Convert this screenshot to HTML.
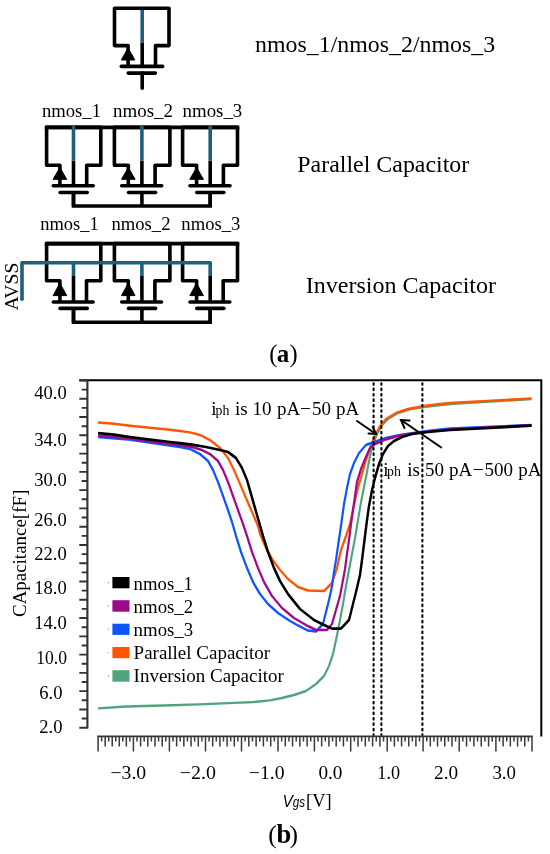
<!DOCTYPE html>
<html lang="en"><head><meta charset="utf-8"><title>Figure</title>
<style>html,body{margin:0;padding:0;background:#fff;}svg{display:block;}text{font-family:'Liberation Serif', serif;fill:#000;}</style>
</head><body>
<svg width="550" height="854" viewBox="0 0 550 854">
<rect width="550" height="854" fill="#fff"/>
<g id="single">
<path d="M128.1,66.4 V45.6 H114.5 V8.2 H169 V45.6 H155.5 V66.4" fill="none" stroke="#000" stroke-width="3.6" stroke-linejoin="round"/>
<path d="M121.3,66.4 H162.6" stroke="#000" stroke-width="3.6" stroke-linecap="round"/>
<path d="M128.2,73.1 H155.4" stroke="#000" stroke-width="3.6" stroke-linecap="round"/>
<path d="M142.2,73.1 V88.2" stroke="#000" stroke-width="3.6" stroke-linecap="round"/>
<path d="M142.2,42.4 V66.4" stroke="#000" stroke-width="3.6"/>
<path d="M128.1,48.0 L134.9,60.00000000000001 H121.3 Z" fill="#000" stroke="#000" stroke-width="1" stroke-linejoin="round"/>
<path d="M142.2,10 V42.4" stroke="#1e607b" stroke-width="3.6"/>
</g>
<text x="255.1" y="52.3" font-size="23.6" textLength="240" lengthAdjust="spacingAndGlyphs">nmos_1/nmos_2/nmos_3</text>
<g id="parallel">
<path d="M59.9,185.7 V165.2 H46.6 V127.4 H100.8 V165.2 H86.7 V185.7" fill="none" stroke="#000" stroke-width="3.6" stroke-linejoin="round"/>
<path d="M53.3,185.7 H93.3" stroke="#000" stroke-width="3.6" stroke-linecap="round"/>
<path d="M60.1,192.5 H87.2" stroke="#000" stroke-width="3.6" stroke-linecap="round"/>
<path d="M73.5,192.5 V206.0" stroke="#000" stroke-width="3.6" stroke-linecap="butt"/>
<path d="M73.5,160.7 V185.7" stroke="#000" stroke-width="3.6"/>
<path d="M59.9,167.6 L66.7,179.29999999999998 H53.1 Z" fill="#000" stroke="#000" stroke-width="1" stroke-linejoin="round"/>
<path d="M128.3,185.7 V165.2 H114.4 V127.4 H169.9 V165.2 H155.1 V185.7" fill="none" stroke="#000" stroke-width="3.6" stroke-linejoin="round"/>
<path d="M121.7,185.7 H161.70000000000002" stroke="#000" stroke-width="3.6" stroke-linecap="round"/>
<path d="M128.5,192.5 H155.6" stroke="#000" stroke-width="3.6" stroke-linecap="round"/>
<path d="M141.9,192.5 V206.0" stroke="#000" stroke-width="3.6" stroke-linecap="butt"/>
<path d="M141.9,160.7 V185.7" stroke="#000" stroke-width="3.6"/>
<path d="M128.3,167.6 L135.10000000000002,179.29999999999998 H121.50000000000001 Z" fill="#000" stroke="#000" stroke-width="1" stroke-linejoin="round"/>
<path d="M196.6,185.7 V165.2 H182.6 V127.4 H237.5 V165.2 H223.39999999999998 V185.7" fill="none" stroke="#000" stroke-width="3.6" stroke-linejoin="round"/>
<path d="M190.0,185.7 H230.0" stroke="#000" stroke-width="3.6" stroke-linecap="round"/>
<path d="M196.79999999999998,192.5 H223.89999999999998" stroke="#000" stroke-width="3.6" stroke-linecap="round"/>
<path d="M210.2,192.5 V206.0" stroke="#000" stroke-width="3.6" stroke-linecap="butt"/>
<path d="M210.2,160.7 V185.7" stroke="#000" stroke-width="3.6"/>
<path d="M196.6,167.6 L203.4,179.29999999999998 H189.79999999999998 Z" fill="#000" stroke="#000" stroke-width="1" stroke-linejoin="round"/>
<path d="M46.6,127.4 H237.5" stroke="#000" stroke-width="3.6" stroke-linecap="square"/>
<path d="M73.5,192.5 V206.0 H210.2 V192.5" fill="none" stroke="#000" stroke-width="3.6" stroke-linejoin="miter"/>
<path d="M73.5,125.60000000000001 V160.7" stroke="#1e607b" stroke-width="3.6"/>
<path d="M141.9,125.60000000000001 V160.7" stroke="#1e607b" stroke-width="3.6"/>
<path d="M210.2,125.60000000000001 V160.7" stroke="#1e607b" stroke-width="3.6"/>
</g>
<text x="42" y="117.1" font-size="18.7" textLength="59" lengthAdjust="spacingAndGlyphs">nmos_1</text>
<text x="113" y="117.1" font-size="18.7" textLength="60" lengthAdjust="spacingAndGlyphs">nmos_2</text>
<text x="182.6" y="117.1" font-size="18.7" textLength="59.7" lengthAdjust="spacingAndGlyphs">nmos_3</text>
<text x="297.3" y="171.8" font-size="24" textLength="172" lengthAdjust="spacingAndGlyphs">Parallel Capacitor</text>
<g id="inversion">
<path d="M59.9,302.0 V280.8 H46.6 V243.6 H100.8 V280.8 H86.5 V302.0" fill="none" stroke="#000" stroke-width="3.6" stroke-linejoin="round"/>
<path d="M53.3,302.0 H93.1" stroke="#000" stroke-width="3.6" stroke-linecap="round"/>
<path d="M60.1,308.4 H87.2" stroke="#000" stroke-width="3.6" stroke-linecap="round"/>
<path d="M73.5,308.4 V322.2" stroke="#000" stroke-width="3.6" stroke-linecap="butt"/>
<path d="M73.5,276 V302.0" stroke="#000" stroke-width="3.6"/>
<path d="M59.9,283.2 L66.7,295.6 H53.1 Z" fill="#000" stroke="#000" stroke-width="1" stroke-linejoin="round"/>
<path d="M128.3,302.0 V280.8 H114.4 V243.6 H169.9 V280.8 H154.9 V302.0" fill="none" stroke="#000" stroke-width="3.6" stroke-linejoin="round"/>
<path d="M121.7,302.0 H161.5" stroke="#000" stroke-width="3.6" stroke-linecap="round"/>
<path d="M128.5,308.4 H155.6" stroke="#000" stroke-width="3.6" stroke-linecap="round"/>
<path d="M141.9,308.4 V322.2" stroke="#000" stroke-width="3.6" stroke-linecap="butt"/>
<path d="M141.9,276 V302.0" stroke="#000" stroke-width="3.6"/>
<path d="M128.3,283.2 L135.10000000000002,295.6 H121.50000000000001 Z" fill="#000" stroke="#000" stroke-width="1" stroke-linejoin="round"/>
<path d="M196.6,302.0 V280.8 H182.6 V243.6 H237.5 V280.8 H223.2 V302.0" fill="none" stroke="#000" stroke-width="3.6" stroke-linejoin="round"/>
<path d="M190.0,302.0 H229.79999999999998" stroke="#000" stroke-width="3.6" stroke-linecap="round"/>
<path d="M196.79999999999998,308.4 H223.89999999999998" stroke="#000" stroke-width="3.6" stroke-linecap="round"/>
<path d="M210.2,308.4 V322.2" stroke="#000" stroke-width="3.6" stroke-linecap="butt"/>
<path d="M210.2,276 V302.0" stroke="#000" stroke-width="3.6"/>
<path d="M196.6,283.2 L203.4,295.6 H189.79999999999998 Z" fill="#000" stroke="#000" stroke-width="1" stroke-linejoin="round"/>
<path d="M46.6,243.6 H237.5" stroke="#000" stroke-width="3.6" stroke-linecap="square"/>
<path d="M73.5,308.4 V322.2 H210.2 V308.4" fill="none" stroke="#000" stroke-width="3.6" stroke-linejoin="miter"/>
<path d="M22,299.2 V262.8 H210.2 V276" fill="none" stroke="#1e607b" stroke-width="3.6" stroke-linecap="butt" stroke-linejoin="round"/>
<circle cx="22" cy="299.2" r="1.8" fill="#1e607b"/>
<path d="M73.5,262.8 V276" stroke="#1e607b" stroke-width="3.6"/>
<path d="M141.9,262.8 V276" stroke="#1e607b" stroke-width="3.6"/>
</g>
<text x="40.2" y="230.4" font-size="18.7" textLength="58.6" lengthAdjust="spacingAndGlyphs">nmos_1</text>
<text x="111.5" y="230.4" font-size="18.7" textLength="59" lengthAdjust="spacingAndGlyphs">nmos_2</text>
<text x="181.3" y="230.4" font-size="18.7" textLength="59.1" lengthAdjust="spacingAndGlyphs">nmos_3</text>
<text transform="translate(18.3,310.4) rotate(-90)" font-size="18.7" textLength="47.8" lengthAdjust="spacingAndGlyphs">AVSS</text>
<text x="305.7" y="292.5" font-size="24" textLength="190.4" lengthAdjust="spacingAndGlyphs">Inversion Capacitor</text>
<text y="361.8" font-size="24.5"><tspan x="269.2">(</tspan><tspan x="276.8" font-weight="bold" font-size="25">a</tspan><tspan x="289.4">)</tspan></text>
<g id="chart">
<polyline transform="scale(1,1.12)" points="98.1,632.50 126.4,630.80 162.7,629.91 199,628.93 240,627.32 254,626.79 270,625.36 282,623.21 294,620.54 306,616.96 316,610.71 324,603.57 329,594.64 333,583.93 336,571.43 340,553.57 343,539.29 346,523.21 349,508.93 352,494.64 355,480.36 358,464.29 361,448.21 364,434.82 367,421.43 370,407.14 373,396.43 377,387.50 382,379.46 388,374.11 398,368.75 410,365.54 426,363.21 450,360.71 531.5,356.25" fill="none" stroke="#4fa57c" stroke-width="2.15" stroke-linejoin="round" stroke-linecap="butt"/>
<polyline transform="scale(1,1.12)" points="98.1,377.32 114,378.39 130,380.09 150,381.87 170,383.66 180,384.82 190,386.07 200,388.39 210,392.86 220,400.00 228,408.93 234,419.64 240,432.14 246,444.64 252,457.14 258,469.64 260,476.79 266,489.29 272,499.11 280,508.93 288,516.96 298,524.11 308,527.23 324,527.68 332,520.54 337,507.14 341,491.07 346,478.57 350,467.86 353,455.36 356,442.86 359,432.14 362,423.21 366,410.71 370,400.00 374,391.07 380,380.36 386,374.11 396,368.75 408,365.18 424,362.50 440,360.71 450,359.82 531.5,355.71" fill="none" stroke="#ff5500" stroke-width="2.2" stroke-linejoin="round" stroke-linecap="butt"/>
<polyline transform="scale(1,1.12)" points="98.1,390.18 112,391.34 128.6,392.50 157.7,396.16 180,399.11 190,400.89 200,405.36 208,411.61 213,419.64 218,430.36 223,442.86 228,455.36 232,466.07 236,478.57 241,492.86 247,507.14 253,519.64 260,530.36 268,539.29 278,547.32 290,554.46 298,558.48 308,562.95 316,563.84 323,557.14 326,546.43 329,535.71 332,523.21 334,510.71 336,500.00 338,487.50 341,469.64 344,450.00 347,435.71 350,423.21 354,413.39 359,404.46 366,397.32 374,394.64 386,391.07 400,388.39 420,385.71 436,383.93 450,382.68 531.5,379.46" fill="none" stroke="#0f55ff" stroke-width="2.2" stroke-linejoin="round" stroke-linecap="butt"/>
<polyline transform="scale(1,1.12)" points="98.1,388.66 112,390.00 128.6,391.43 157.7,395.09 180,397.32 192,399.11 202,401.79 210,405.36 218,411.61 223,419.64 228,430.36 233,442.86 238,455.36 243,467.86 247,478.57 252,492.86 258,507.14 264,519.64 272,532.14 282,542.86 294,551.79 306,558.04 316,562.50 327,562.50 332,557.14 336,544.64 340,532.14 343,517.86 345,508.04 347,494.64 349,482.14 351,467.86 353,455.36 355,442.86 357,430.36 361,418.75 365,409.82 370,400.00 375,396.43 384,392.86 398,389.29 412,387.14 428,385.36 450,383.39 531.5,379.64" fill="none" stroke="#a00a88" stroke-width="2.2" stroke-linejoin="round" stroke-linecap="butt"/>
<polyline transform="scale(1,1.12)" points="98.1,386.61 114,388.04 130,390.18 150,392.50 170,394.64 180,395.71 192,396.96 206,399.11 220,401.79 228,403.57 236,408.93 242,417.86 247,428.57 251,441.07 255,453.57 259,466.07 263,478.57 268,492.86 274,507.14 280,518.75 288,530.36 300,543.75 314,553.57 324,558.04 332,561.25 341,561.25 349,553.57 352,542.86 356,528.57 360,513.39 362,500.00 363,492.86 365,478.57 367,464.29 369,451.79 372,437.50 375,426.79 379,414.29 383,405.36 388,398.21 394,393.75 402,390.18 412,387.50 428,385.71 450,383.93 531.5,380.00" fill="none" stroke="#000" stroke-width="2.45" stroke-linejoin="round" stroke-linecap="butt"/>
<path d="M373.6,383.2 V735" stroke="#000" stroke-width="2.1" stroke-dasharray="1.6,3.8" stroke-linecap="round"/>
<path d="M381.4,383.2 V735" stroke="#000" stroke-width="2.1" stroke-dasharray="1.6,3.8" stroke-linecap="round"/>
<path d="M422.4,383.2 V735" stroke="#000" stroke-width="2.1" stroke-dasharray="1.6,3.8" stroke-linecap="round"/>
<path d="M79.3,380.2 H541.3 V736.6" fill="none" stroke="#000" stroke-width="2" stroke-linejoin="miter"/>
<path d="M87.4,380.2 V728.5" stroke="#333" stroke-width="2.1"/>
<path d="M79.3,380.50 H87.4 M81.7,389.64 H87.4 M79.3,398.77 H87.4 M81.7,407.91 H87.4 M79.3,417.05 H87.4 M81.7,426.18 H87.4 M79.3,435.32 H87.4 M81.7,444.46 H87.4 M79.3,453.59 H87.4 M81.7,462.73 H87.4 M79.3,471.87 H87.4 M81.7,481.01 H87.4 M79.3,490.14 H87.4 M81.7,499.28 H87.4 M79.3,508.42 H87.4 M81.7,517.55 H87.4 M79.3,526.69 H87.4 M81.7,535.83 H87.4 M79.3,544.96 H87.4 M81.7,554.10 H87.4 M79.3,563.24 H87.4 M81.7,572.37 H87.4 M79.3,581.51 H87.4 M81.7,590.65 H87.4 M79.3,599.78 H87.4 M81.7,608.92 H87.4 M79.3,618.06 H87.4 M81.7,627.19 H87.4 M79.3,636.33 H87.4 M81.7,645.47 H87.4 M79.3,654.61 H87.4 M81.7,663.74 H87.4 M79.3,672.88 H87.4 M81.7,682.02 H87.4 M79.3,691.15 H87.4 M81.7,700.29 H87.4 M79.3,709.43 H87.4 M81.7,718.56 H87.4 M79.3,727.70 H87.4" stroke="#333" stroke-width="1.9" fill="none"/>
<path d="M97.3,736.4 H532.8" stroke="#333" stroke-width="1.8"/>
<path d="M98.10,736.4 V751.5 M101.63,736.4 V741.4 M105.16,736.4 V746.6 M108.69,736.4 V741.4 M112.22,736.4 V746.6 M115.75,736.4 V741.4 M119.28,736.4 V746.6 M122.81,736.4 V741.4 M126.34,736.4 V746.6 M129.87,736.4 V741.4 M133.40,736.4 V751.5 M137.00,736.4 V741.4 M140.60,736.4 V746.6 M144.20,736.4 V741.4 M147.80,736.4 V746.6 M151.40,736.4 V741.4 M155.00,736.4 V746.6 M158.60,736.4 V741.4 M162.20,736.4 V746.6 M165.80,736.4 V741.4 M169.40,736.4 V751.5 M173.01,736.4 V741.4 M176.62,736.4 V746.6 M180.23,736.4 V741.4 M183.84,736.4 V746.6 M187.45,736.4 V741.4 M191.06,736.4 V746.6 M194.67,736.4 V741.4 M198.28,736.4 V746.6 M201.89,736.4 V741.4 M205.50,736.4 V751.5 M209.10,736.4 V741.4 M212.70,736.4 V746.6 M216.30,736.4 V741.4 M219.90,736.4 V746.6 M223.50,736.4 V741.4 M227.10,736.4 V746.6 M230.70,736.4 V741.4 M234.30,736.4 V746.6 M237.90,736.4 V741.4 M241.50,736.4 V751.5 M245.15,736.4 V741.4 M248.80,736.4 V746.6 M252.45,736.4 V741.4 M256.10,736.4 V746.6 M259.75,736.4 V741.4 M263.40,736.4 V746.6 M267.05,736.4 V741.4 M270.70,736.4 V746.6 M274.35,736.4 V741.4 M278.00,736.4 V751.5 M281.64,736.4 V741.4 M285.28,736.4 V746.6 M288.92,736.4 V741.4 M292.56,736.4 V746.6 M296.20,736.4 V741.4 M299.84,736.4 V746.6 M303.48,736.4 V741.4 M307.12,736.4 V746.6 M310.76,736.4 V741.4 M314.40,736.4 V751.5 M318.03,736.4 V741.4 M321.66,736.4 V746.6 M325.29,736.4 V741.4 M328.92,736.4 V746.6 M332.55,736.4 V741.4 M336.18,736.4 V746.6 M339.81,736.4 V741.4 M343.44,736.4 V746.6 M347.07,736.4 V741.4 M350.70,736.4 V751.5 M354.35,736.4 V741.4 M358.00,736.4 V746.6 M361.65,736.4 V741.4 M365.30,736.4 V746.6 M368.95,736.4 V741.4 M372.60,736.4 V746.6 M376.25,736.4 V741.4 M379.90,736.4 V746.6 M383.55,736.4 V741.4 M387.20,736.4 V751.5 M390.79,736.4 V741.4 M394.38,736.4 V746.6 M397.97,736.4 V741.4 M401.56,736.4 V746.6 M405.15,736.4 V741.4 M408.74,736.4 V746.6 M412.33,736.4 V741.4 M415.92,736.4 V746.6 M419.51,736.4 V741.4 M423.10,736.4 V751.5 M426.71,736.4 V741.4 M430.32,736.4 V746.6 M433.93,736.4 V741.4 M437.54,736.4 V746.6 M441.15,736.4 V741.4 M444.76,736.4 V746.6 M448.37,736.4 V741.4 M451.98,736.4 V746.6 M455.59,736.4 V741.4 M459.20,736.4 V751.5 M462.87,736.4 V741.4 M466.54,736.4 V746.6 M470.21,736.4 V741.4 M473.88,736.4 V746.6 M477.55,736.4 V741.4 M481.22,736.4 V746.6 M484.89,736.4 V741.4 M488.56,736.4 V746.6 M492.23,736.4 V741.4 M495.90,736.4 V751.5 M499.51,736.4 V741.4 M503.12,736.4 V746.6 M506.73,736.4 V741.4 M510.34,736.4 V746.6 M513.95,736.4 V741.4 M517.56,736.4 V746.6 M521.17,736.4 V741.4 M524.78,736.4 V746.6 M528.39,736.4 V741.4 M532.00,736.4 V751.5" stroke="#3a3a3a" stroke-width="1.5" fill="none"/>
<text x="34.3" y="398.8" font-size="17.8" textLength="32.5" lengthAdjust="spacingAndGlyphs">40.0</text>
<text x="34.3" y="445.5" font-size="17.8" textLength="32.5" lengthAdjust="spacingAndGlyphs">34.0</text>
<text x="34.3" y="485.6" font-size="17.8" textLength="32.5" lengthAdjust="spacingAndGlyphs">30.0</text>
<text x="34.3" y="526" font-size="17.8" textLength="32.5" lengthAdjust="spacingAndGlyphs">26.0</text>
<text x="34.3" y="560" font-size="17.8" textLength="32.5" lengthAdjust="spacingAndGlyphs">22.0</text>
<text x="34.3" y="594.2" font-size="17.8" textLength="32.5" lengthAdjust="spacingAndGlyphs">18.0</text>
<text x="34.3" y="629.4" font-size="17.8" textLength="32.5" lengthAdjust="spacingAndGlyphs">14.0</text>
<text x="36.2" y="663.6" font-size="17.8" textLength="30.8" lengthAdjust="spacingAndGlyphs">10.0</text>
<text x="39.3" y="698.6" font-size="17.8" textLength="23.2" lengthAdjust="spacingAndGlyphs">6.0</text>
<text x="39.3" y="732.7" font-size="17.8" textLength="23.2" lengthAdjust="spacingAndGlyphs">2.0</text>
<text transform="translate(26.4,617) rotate(-90)" font-size="19" textLength="127.3" lengthAdjust="spacingAndGlyphs">CApacitance[fF]</text>
<text x="110.4" y="779.3" font-size="18.5" textLength="35.8" lengthAdjust="spacingAndGlyphs">−3.0</text>
<text x="179.8" y="779.3" font-size="18.5" textLength="36.2" lengthAdjust="spacingAndGlyphs">−2.0</text>
<text x="248.8" y="779.3" font-size="18.5" textLength="35.8" lengthAdjust="spacingAndGlyphs">−1.0</text>
<text x="318.4" y="779.3" font-size="18.5" textLength="24" lengthAdjust="spacingAndGlyphs">0.0</text>
<text x="377.29999999999995" y="779.3" font-size="18.5" textLength="22.7" lengthAdjust="spacingAndGlyphs">1.0</text>
<text x="434.09999999999997" y="779.3" font-size="18.5" textLength="24" lengthAdjust="spacingAndGlyphs">2.0</text>
<text x="492.4" y="779.3" font-size="18.5" textLength="23.6" lengthAdjust="spacingAndGlyphs">3.0</text>
<text x="282.6" y="806.5" font-size="17.4" font-style="italic" style="font-family:'Liberation Sans', sans-serif" textLength="10.4" lengthAdjust="spacingAndGlyphs">V</text>
<text x="292.7" y="806.5" font-size="14" font-style="italic" style="font-family:'Liberation Sans', sans-serif" textLength="12.3" lengthAdjust="spacingAndGlyphs">gs</text>
<text x="306.1" y="806.8" font-size="19" textLength="25.6" lengthAdjust="spacingAndGlyphs">[V]</text>
<text y="843.4" font-size="25.5"><tspan x="268.2">(</tspan><tspan x="276.4" font-weight="bold" font-size="26.5">b</tspan><tspan x="289.6">)</tspan></text>
<rect x="112.4" y="577" width="17.1" height="11.3" fill="#000"/>
<circle cx="108.4" cy="582.6" r="0.7" fill="#999"/>
<text x="133.6" y="589.6" font-size="18.9" textLength="59.3" lengthAdjust="spacingAndGlyphs">nmos_1</text>
<rect x="112.4" y="600.2" width="17.1" height="11.5" fill="#9b0a87"/>
<circle cx="108.4" cy="606.0" r="0.7" fill="#999"/>
<text x="133.6" y="612.6" font-size="18.9" textLength="59.6" lengthAdjust="spacingAndGlyphs">nmos_2</text>
<rect x="112.4" y="623.7" width="17.1" height="11.2" fill="#0f55ff"/>
<circle cx="108.4" cy="629.3" r="0.7" fill="#999"/>
<text x="133.6" y="635.9" font-size="18.9" textLength="59.6" lengthAdjust="spacingAndGlyphs">nmos_3</text>
<rect x="112.4" y="647" width="17.1" height="11.2" fill="#ff5500"/>
<circle cx="108.4" cy="652.6" r="0.7" fill="#999"/>
<text x="133.6" y="658.8000000000001" font-size="18.9" textLength="136.5" lengthAdjust="spacingAndGlyphs">Parallel Capacitor</text>
<rect x="112.4" y="670.2" width="17.1" height="11.5" fill="#4fa57c"/>
<circle cx="108.4" cy="676.0" r="0.7" fill="#999"/>
<text x="133.6" y="681.6" font-size="18.9" textLength="150.2" lengthAdjust="spacingAndGlyphs">Inversion Capacitor</text>
<text y="415.4" font-size="19"><tspan x="211.3">i</tspan><tspan x="215.6" font-size="13.8">ph</tspan><tspan x="235.1">is</tspan><tspan x="252.6">10</tspan><tspan x="276.9">pA</tspan><tspan x="300" textLength="11" lengthAdjust="spacingAndGlyphs">−</tspan><tspan x="311.9">50</tspan><tspan x="335.9">pA</tspan></text>
<text y="475.8" font-size="19"><tspan x="383.3">i</tspan><tspan x="387" font-size="13.8">ph</tspan><tspan x="407.3">is</tspan><tspan x="424.9">50</tspan><tspan x="448.9">pA</tspan><tspan x="472.6" textLength="11.3" lengthAdjust="spacingAndGlyphs">−</tspan><tspan x="484.5">500</tspan><tspan x="518.2">pA</tspan></text>
<g stroke="#000" stroke-width="2" fill="none" stroke-linecap="round" stroke-linejoin="miter">
<path d="M357,421 L376,434"/><path d="M368.5,433.5 L376,434 L372.8,427"/>
<path d="M441.3,447.5 L401,420"/><path d="M409.5,420.5 L401,420 L404.5,428"/>
</g>
</g>
</svg>
</body></html>
